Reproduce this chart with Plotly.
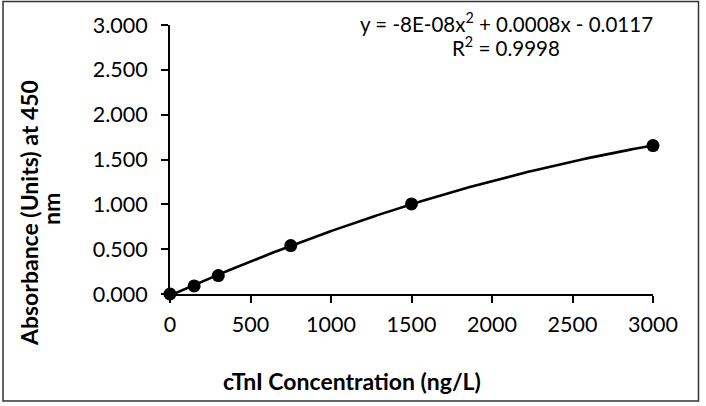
import numpy as np
import plotly.graph_objects as go

# Data
concentration = [0, 150, 300, 750, 1500, 3000]          # cTnI (ng/L)
absorbance = [0.000, 0.090, 0.205, 0.540, 1.005, 1.655]  # A450
x_ticks = [0, 500, 1000, 1500, 2000, 2500, 3000]
y_ticks = [0.0, 0.5, 1.0, 1.5, 2.0, 2.5, 3.0]
equation_lines = ["y = -8E-08x<sup>2</sup> + 0.0008x - 0.0117", "R<sup>2</sup> = 0.9998"]
x_title = "cTnI Concentration (ng/L)"
y_title_lines = ["Absorbance (Units) at 450", "nm"]

# Polynomial (order 2) trendline fitted to the data
coef = np.polyfit(concentration, absorbance, 2)
fit_x = np.linspace(min(concentration), max(concentration), 300)
fit_y = np.polyval(coef, fit_x)

W, H = 706, 406
L, R, T, B = 170, 53, 25, 112
pw, ph = W - L - R, H - T - B

def px_x(p):
    return (p - L) / pw

def px_y(p):
    return (H - B - p) / ph

fig = go.Figure()
fig.add_trace(go.Scatter(x=fit_x, y=fit_y, mode="lines",
                         line=dict(color="black", width=2.6),
                         hoverinfo="skip", cliponaxis=False))
fig.add_trace(go.Scatter(x=concentration, y=absorbance, mode="markers",
                         marker=dict(color="black", size=13),
                         cliponaxis=False))

font_family = "Lato, Carlito, Calibri, sans-serif"
tick_font = dict(size=21.5, family=font_family, color="black")

fig.update_layout(
    width=W, height=H,
    margin=dict(l=L, r=R, t=T, b=B),
    paper_bgcolor="white", plot_bgcolor="white",
    showlegend=False,
    font=dict(family=font_family, color="black", size=19),
    xaxis=dict(range=[0, 3000], tickvals=x_ticks, ticktext=[str(v) for v in x_ticks],
               showgrid=False, zeroline=False, showline=True, linecolor="black",
               linewidth=2, ticks="outside", ticklen=7, tickwidth=2, tickcolor="black",
               tickfont=tick_font, ticklabelstandoff=3),
    yaxis=dict(range=[0, 3], tickvals=y_ticks, ticktext=[f"{v:.3f}" for v in y_ticks],
               showgrid=False, zeroline=False, showline=True, linecolor="black",
               linewidth=2, ticks="outside", ticklen=7, tickwidth=2, tickcolor="black",
               tickfont=tick_font, ticklabelstandoff=9),
)

eq_font = dict(size=20.5, family=font_family, color="black")
fig.add_annotation(text=equation_lines[0], xref="paper", yref="paper",
                   x=px_x(506), y=px_y(22), xanchor="center", yanchor="middle",
                   showarrow=False, font=eq_font)
fig.add_annotation(text=equation_lines[1], xref="paper", yref="paper",
                   x=px_x(506), y=px_y(46), xanchor="center", yanchor="middle",
                   showarrow=False, font=eq_font)
fig.add_annotation(text="<b>" + x_title + "</b>", xref="paper", yref="paper",
                   x=px_x(352), y=px_y(381), xanchor="center", yanchor="middle",
                   showarrow=False, font=dict(size=23, family=font_family, color="black"))
fig.add_annotation(text="<b>" + y_title_lines[0] + "</b>",
                   xref="paper", yref="paper",
                   x=px_x(29), y=px_y(213), xanchor="center", yanchor="middle",
                   textangle=-90, showarrow=False,
                   font=dict(size=23, family=font_family, color="black"))
fig.add_annotation(text="<b>" + y_title_lines[1] + "</b>",
                   xref="paper", yref="paper",
                   x=px_x(51), y=px_y(209), xanchor="center", yanchor="middle",
                   textangle=-90, showarrow=False,
                   font=dict(size=23, family=font_family, color="black"))

# Outer chart border
fig.add_shape(type="rect", xref="paper", yref="paper",
              x0=px_x(3), x1=px_x(698.5), y0=px_y(401), y1=px_y(1.5),
              line=dict(color="#333333", width=1.5), layer="above")

fig.write_html("out.html", config={"displayModeBar": False},
               post_script="document.body.style.margin='0';")
